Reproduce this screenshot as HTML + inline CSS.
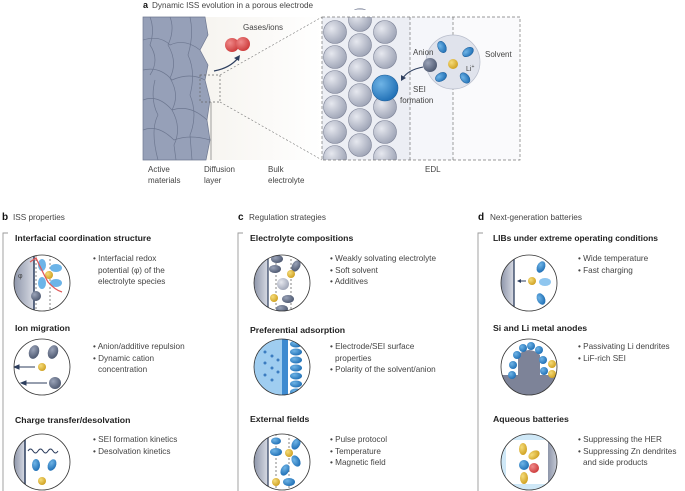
<!DOCTYPE html>
<html><head><meta charset="utf-8"><style>
html,body{margin:0;padding:0;background:#fff}
svg{display:block}
text{font-family:"Liberation Sans",sans-serif;fill:#333}
.h{font-size:8.7px;font-weight:bold;fill:#222}
.t{font-size:8.2px;fill:#444}
.l{font-size:8px;fill:#444}
.p{font-size:10px;font-weight:bold;fill:#111}
</style></head><body>
<svg width="685" height="491" viewBox="0 0 685 491" xmlns="http://www.w3.org/2000/svg">
<defs>
<radialGradient id="gs" cx="35%" cy="35%" r="70%"><stop offset="0" stop-color="#e6e8ef"/><stop offset="1" stop-color="#9ea4b6"/></radialGradient>
<radialGradient id="bs" cx="35%" cy="35%" r="70%"><stop offset="0" stop-color="#6fb4e6"/><stop offset="1" stop-color="#1f6fb5"/></radialGradient>
<radialGradient id="rs" cx="35%" cy="35%" r="70%"><stop offset="0" stop-color="#f08a8a"/><stop offset="1" stop-color="#cc3a3a"/></radialGradient>
<radialGradient id="ys" cx="35%" cy="35%" r="70%"><stop offset="0" stop-color="#f5dc7a"/><stop offset="1" stop-color="#cfa020"/></radialGradient>
<radialGradient id="ds" cx="35%" cy="35%" r="70%"><stop offset="0" stop-color="#9aa3b8"/><stop offset="1" stop-color="#4d5870"/></radialGradient>
<linearGradient id="el" x1="0" x2="1"><stop offset="0" stop-color="#8e96aa"/><stop offset="1" stop-color="#d8dbe4"/></linearGradient>
<linearGradient id="bg1" x1="0" x2="1"><stop offset="0" stop-color="#f2efe8"/><stop offset="1" stop-color="#ffffff"/></linearGradient>
<clipPath id="c1"><circle cx="42" cy="283" r="28"/></clipPath>
<clipPath id="c2"><circle cx="42" cy="367" r="28"/></clipPath>
<clipPath id="c3"><circle cx="42" cy="462" r="28"/></clipPath>
<clipPath id="c4"><circle cx="282" cy="283" r="28"/></clipPath>
<clipPath id="c5"><circle cx="282" cy="367" r="28"/></clipPath>
<clipPath id="c6"><circle cx="282" cy="462" r="28"/></clipPath>
<clipPath id="c7"><circle cx="529" cy="283" r="28"/></clipPath>
<clipPath id="c8"><circle cx="529" cy="367" r="28"/></clipPath>
<clipPath id="c9"><circle cx="529" cy="462" r="28"/></clipPath>
</defs>

<!-- panel a -->
<text x="143" y="8" class="p" style="font-size:9px">a</text>
<text x="152" y="8" class="t">Dynamic ISS evolution in a porous electrode</text>
<rect x="143" y="17" width="180" height="143" fill="url(#bg1)"/>
<g fill="#96a0b8" stroke="#6d7790" stroke-width="0.7">
<path d="M143 17 H205 L208 35 L200 50 L208 65 L205 80 L210 100 L207 120 L210 140 L206 160 H143 Z"/>
</g>
<g fill="none" stroke="#6d7790" stroke-width="0.7">
<path d="M143 40 Q160 35 170 45 Q185 38 200 50"/><path d="M150 17 Q155 30 150 45 Q160 60 150 75"/>
<path d="M170 17 Q175 30 168 45 Q178 62 170 78 Q180 95 172 110 Q182 128 174 145 L176 160"/>
<path d="M143 70 Q160 66 172 80 Q190 72 205 80"/><path d="M143 100 Q158 94 172 110 Q190 104 207 120"/>
<path d="M143 130 Q158 124 174 140 Q190 134 210 140"/><path d="M155 80 Q150 100 158 115 Q150 130 158 160"/>
<path d="M190 17 Q194 35 188 55 Q196 72 190 95 Q198 115 190 135 L192 160"/>
</g>
<line x1="211" y1="102" x2="211" y2="160" stroke="#888" stroke-width="0.8"/>
<rect x="200" y="75" width="20" height="27" fill="none" stroke="#666" stroke-width="0.7" stroke-dasharray="2,2"/>
<line x1="220" y1="75" x2="322" y2="17" stroke="#777" stroke-width="0.6" stroke-dasharray="2,2"/>
<line x1="220" y1="102" x2="322" y2="160" stroke="#777" stroke-width="0.6" stroke-dasharray="2,2"/>
<circle cx="232" cy="45" r="7" fill="url(#rs)"/><circle cx="243" cy="44" r="7" fill="url(#rs)"/>
<text x="243" y="30" class="l">Gases/ions</text>
<path d="M214 71 Q230 68 238 58" fill="none" stroke="#2d3e5e" stroke-width="1.3"/>
<path d="M240 55 L234 58 L239 61 Z" fill="#2d3e5e"/>

<rect x="322" y="17" width="198" height="143" fill="#eceef4"/>
<rect x="410" y="17" width="110" height="143" fill="#f5f6fa"/>
<rect x="453" y="17" width="67" height="143" fill="#fafafc"/>
<g fill="url(#gs)" stroke="#7c8296" stroke-width="0.6">
<circle cx="335" cy="32" r="11.5"/><circle cx="335" cy="57" r="11.5"/><circle cx="335" cy="82" r="11.5"/><circle cx="335" cy="107" r="11.5"/><circle cx="335" cy="132" r="11.5"/><circle cx="335" cy="157" r="11.5"/>
<circle cx="360" cy="20" r="11.5"/><circle cx="360" cy="45" r="11.5"/><circle cx="360" cy="70" r="11.5"/><circle cx="360" cy="95" r="11.5"/><circle cx="360" cy="120" r="11.5"/><circle cx="360" cy="145" r="11.5"/>
<circle cx="385" cy="32" r="11.5"/><circle cx="385" cy="57" r="11.5"/><circle cx="385" cy="107" r="11.5"/><circle cx="385" cy="132" r="11.5"/><circle cx="385" cy="157" r="11.5"/>
</g>
<rect x="322" y="160" width="200" height="10" fill="#fff"/>
<rect x="322" y="10" width="200" height="7" fill="#fff"/>
<circle cx="385" cy="88" r="13" fill="url(#bs)" stroke="#1d5e9a" stroke-width="0.6"/>
<rect x="322" y="17" width="198" height="143" fill="none" stroke="#777" stroke-width="0.7" stroke-dasharray="3,2"/>
<line x1="410" y1="17" x2="410" y2="160" stroke="#777" stroke-width="0.7" stroke-dasharray="3,2"/>
<line x1="453" y1="17" x2="453" y2="160" stroke="#777" stroke-width="0.7" stroke-dasharray="3,2"/>
<circle cx="453" cy="62" r="27" fill="#e0e3ec" stroke="#b8bdcb" stroke-width="0.7"/>
<g fill="url(#bs)" stroke="#1d5e9a" stroke-width="0.5">
<ellipse cx="442" cy="47" rx="4" ry="6" transform="rotate(-25 442 47)"/>
<ellipse cx="468" cy="52" rx="6" ry="4" transform="rotate(-35 468 52)"/>
<ellipse cx="441" cy="77" rx="6" ry="4" transform="rotate(-30 441 77)"/>
<ellipse cx="465" cy="78" rx="4" ry="6" transform="rotate(-40 465 78)"/>
</g>
<circle cx="453" cy="64" r="5" fill="url(#ys)"/>
<circle cx="430" cy="65" r="7" fill="url(#ds)"/>
<text x="413" y="55" class="l">Anion</text>
<text x="485" y="57" class="l">Solvent</text>
<text x="466" y="71" class="l" style="font-size:7px">Li<tspan dy="-3" font-size="5">+</tspan></text>
<text x="413" y="92" class="l">SEI</text>
<text x="400" y="103" class="l">formation</text>
<path d="M423 67 Q408 70 403 78" fill="none" stroke="#2d3e5e" stroke-width="1.1"/>
<path d="M401 81 L401 75 L406 78 Z" fill="#2d3e5e"/>
<text x="148" y="172" class="l">Active</text><text x="148" y="183" class="l">materials</text>
<text x="204" y="172" class="l">Diffusion</text><text x="204" y="183" class="l">layer</text>
<text x="268" y="172" class="l">Bulk</text><text x="268" y="183" class="l">electrolyte</text>
<text x="425" y="172" class="l">EDL</text>

<!-- column headers -->
<text x="2" y="220" class="p">b</text><text x="13" y="220" class="t">ISS properties</text>
<text x="238" y="220" class="p">c</text><text x="249" y="220" class="t">Regulation strategies</text>
<text x="478" y="220" class="p">d</text><text x="490" y="220" class="t">Next-generation batteries</text>
<g stroke="#999" stroke-width="0.9" fill="none">
<path d="M8 233 H3 V491"/><path d="M243 233 H238 V491"/><path d="M483 233 H478 V491"/>
</g>

<!-- b -->
<text x="15" y="241" class="h">Interfacial coordination structure</text>
<text x="15" y="331" class="h">Ion migration</text>
<text x="15" y="423" class="h">Charge transfer/desolvation</text>
<g clip-path="url(#c1)"><rect x="14" y="255" width="20" height="60" fill="url(#el)"/><line x1="34" y1="255" x2="34" y2="315" stroke="#2d3e5e" stroke-width="1.5"/>
<line x1="36" y1="255" x2="36" y2="315" stroke="#333" stroke-dasharray="2,2" stroke-width="0.6"/><line x1="50" y1="255" x2="50" y2="315" stroke="#333" stroke-dasharray="2,2" stroke-width="0.6"/>
<g fill="#6cb4e8"><ellipse cx="42" cy="265" rx="4" ry="6"/><ellipse cx="56" cy="268" rx="6" ry="4"/><ellipse cx="42" cy="283" rx="4" ry="6"/><ellipse cx="56" cy="283" rx="6" ry="4"/></g>
<circle cx="49" cy="275" r="4" fill="url(#ys)"/><circle cx="36" cy="296" r="5" fill="url(#ds)"/>
<path d="M30 262 L36 258 Q44 275 48 282 Q55 290 62 292" fill="none" stroke="#e05858" stroke-width="1.3"/>
<text x="18" y="278" class="l" style="font-size:7px">φ</text></g>
<circle cx="42" cy="283" r="28" fill="none" stroke="#333" stroke-width="0.8"/>
<g clip-path="url(#c2)"><g fill="url(#ds)"><ellipse cx="34" cy="352" rx="5" ry="7" transform="rotate(20 34 352)"/><ellipse cx="53" cy="352" rx="5" ry="7" transform="rotate(20 53 352)"/><circle cx="55" cy="383" r="6"/></g>
<circle cx="42" cy="367" r="4" fill="url(#ys)"/>
<g stroke="#2d3e5e" stroke-width="1" fill="#2d3e5e"><line x1="17" y1="367" x2="35" y2="367"/><path d="M14 367 L19 365 L19 369Z"/><line x1="24" y1="383" x2="47" y2="383"/><path d="M21 383 L26 381 L26 385Z"/></g></g>
<circle cx="42" cy="367" r="28" fill="none" stroke="#333" stroke-width="0.8"/>
<g clip-path="url(#c3)"><rect x="14" y="434" width="11" height="60" fill="url(#el)"/><line x1="25" y1="434" x2="25" y2="494" stroke="#2d3e5e" stroke-width="1.5"/>
<path d="M28 451 q2.5 -4 5 0 t5 0 t5 0 t5 0 t5 0 t5 0" fill="none" stroke="#2d3e5e" stroke-width="1"/>
<g fill="url(#bs)"><ellipse cx="36" cy="465" rx="4" ry="6"/><ellipse cx="52" cy="465" rx="4" ry="6" transform="rotate(25 52 465)"/></g>
<circle cx="42" cy="481" r="4" fill="url(#ys)"/></g>
<circle cx="42" cy="462" r="28" fill="none" stroke="#333" stroke-width="0.8"/>
<text x="93" y="261" class="t">• Interfacial redox</text><text x="98" y="273" class="t">potential (φ) of the</text><text x="98" y="284" class="t">electrolyte species</text>
<text x="93" y="349" class="t">• Anion/additive repulsion</text><text x="93" y="361" class="t">• Dynamic cation</text><text x="98" y="372" class="t">concentration</text>
<text x="93" y="442" class="t">• SEI formation kinetics</text><text x="93" y="454" class="t">• Desolvation kinetics</text>

<!-- c -->
<text x="250" y="241" class="h">Electrolyte compositions</text>
<text x="250" y="333" class="h">Preferential adsorption</text>
<text x="250" y="422" class="h">External fields</text>
<g clip-path="url(#c4)"><rect x="254" y="255" width="14" height="60" fill="url(#el)"/><line x1="268" y1="255" x2="268" y2="315" stroke="#2d3e5e" stroke-width="1.2"/>
<line x1="276" y1="255" x2="276" y2="315" stroke="#333" stroke-dasharray="2,2" stroke-width="0.6"/><line x1="291" y1="255" x2="291" y2="315" stroke="#333" stroke-dasharray="2,2" stroke-width="0.6"/>
<g fill="url(#ds)"><ellipse cx="277" cy="259" rx="6" ry="4"/><ellipse cx="275" cy="269" rx="6" ry="4"/><ellipse cx="296" cy="266" rx="4" ry="6" transform="rotate(30 296 266)"/><ellipse cx="288" cy="299" rx="6" ry="4"/><ellipse cx="282" cy="309" rx="6" ry="4"/></g>
<circle cx="283" cy="284" r="6" fill="url(#gs)"/><circle cx="291" cy="274" r="4" fill="url(#ys)"/><circle cx="274" cy="298" r="4" fill="url(#ys)"/></g>
<circle cx="282" cy="283" r="28" fill="none" stroke="#333" stroke-width="0.8"/>
<g clip-path="url(#c5)"><rect x="254" y="339" width="34" height="60" fill="#9fcdf0"/><rect x="282" y="339" width="6" height="60" fill="#3d8ad0"/>
<g fill="#3b7cc0"><circle cx="265" cy="352" r="1.5"/><circle cx="272" cy="356" r="1.5"/><circle cx="265" cy="363" r="1.5"/><circle cx="272" cy="368" r="1.5"/><circle cx="265" cy="375" r="1.5"/><circle cx="272" cy="380" r="1.5"/><circle cx="278" cy="360" r="1.5"/><circle cx="278" cy="372" r="1.5"/></g>
<g fill="url(#bs)"><ellipse cx="296" cy="344" rx="6" ry="3.5"/><ellipse cx="296" cy="352" rx="6" ry="3.5"/><ellipse cx="296" cy="360" rx="6" ry="3.5"/><ellipse cx="296" cy="368" rx="6" ry="3.5"/><ellipse cx="296" cy="376" rx="6" ry="3.5"/><ellipse cx="296" cy="384" rx="6" ry="3.5"/><ellipse cx="296" cy="392" rx="6" ry="3.5"/></g></g>
<circle cx="282" cy="367" r="28" fill="none" stroke="#333" stroke-width="0.8"/>
<g clip-path="url(#c6)"><rect x="254" y="434" width="14" height="60" fill="url(#el)"/><line x1="268" y1="434" x2="268" y2="494" stroke="#2d3e5e" stroke-width="1.2"/>
<line x1="276" y1="434" x2="276" y2="494" stroke="#333" stroke-dasharray="2,2" stroke-width="0.6"/><line x1="289" y1="434" x2="289" y2="494" stroke="#333" stroke-dasharray="2,2" stroke-width="0.6"/>
<g fill="url(#bs)"><ellipse cx="276" cy="441" rx="5" ry="3.5"/><ellipse cx="276" cy="452" rx="6" ry="4"/><ellipse cx="296" cy="444" rx="4" ry="6" transform="rotate(30 296 444)"/><ellipse cx="296" cy="461" rx="4" ry="6" transform="rotate(-30 296 461)"/><ellipse cx="285" cy="470" rx="4" ry="6" transform="rotate(30 285 470)"/><ellipse cx="289" cy="482" rx="6" ry="4"/></g>
<circle cx="289" cy="453" r="4" fill="url(#ys)"/><circle cx="276" cy="482" r="4" fill="url(#ys)"/></g>
<circle cx="282" cy="462" r="28" fill="none" stroke="#333" stroke-width="0.8"/>
<text x="330" y="261" class="t">• Weakly solvating electrolyte</text><text x="330" y="273" class="t">• Soft solvent</text><text x="330" y="284" class="t">• Additives</text>
<text x="330" y="349" class="t">• Electrode/SEI surface</text><text x="335" y="361" class="t">properties</text><text x="330" y="372" class="t">• Polarity of the solvent/anion</text>
<text x="330" y="442" class="t">• Pulse protocol</text><text x="330" y="454" class="t">• Temperature</text><text x="330" y="465" class="t">• Magnetic field</text>

<!-- d -->
<text x="493" y="241" class="h" textLength="165" lengthAdjust="spacingAndGlyphs">LIBs under extreme operating conditions</text>
<text x="493" y="331" class="h">Si and Li metal anodes</text>
<text x="493" y="422" class="h">Aqueous batteries</text>
<g clip-path="url(#c7)"><rect x="501" y="255" width="13" height="60" fill="url(#el)"/><line x1="514" y1="255" x2="514" y2="315" stroke="#2d3e5e" stroke-width="1.3"/>
<g fill="url(#bs)"><ellipse cx="541" cy="267" rx="4" ry="6" transform="rotate(25 541 267)"/><ellipse cx="541" cy="299" rx="4" ry="6" transform="rotate(-25 541 299)"/></g>
<ellipse cx="545" cy="282" rx="6" ry="4" fill="#8fc6ef"/><circle cx="532" cy="281" r="4" fill="url(#ys)"/>
<path d="M518 281 H526" stroke="#2d3e5e" stroke-width="1"/><path d="M517 281 L521 279 L521 283Z" fill="#2d3e5e"/></g>
<circle cx="529" cy="283" r="28" fill="none" stroke="#333" stroke-width="0.8"/>
<g clip-path="url(#c8)"><rect x="500" y="375" width="60" height="25" fill="#7d8398"/><path d="M518 378 V355 Q529 345 540 355 V378Z" fill="#7d8398"/>
<g fill="url(#bs)"><circle cx="512" cy="375" r="4"/><circle cx="513" cy="365" r="4"/><circle cx="517" cy="355" r="4"/><circle cx="523" cy="348" r="4"/><circle cx="531" cy="346" r="4"/><circle cx="539" cy="350" r="4"/><circle cx="543" cy="360" r="4"/><circle cx="544" cy="371" r="4"/></g>
<g fill="url(#ys)"><circle cx="552" cy="364" r="4"/><circle cx="552" cy="374" r="4"/></g></g>
<circle cx="529" cy="367" r="28" fill="none" stroke="#333" stroke-width="0.8"/>
<g clip-path="url(#c9)"><rect x="500" y="434" width="60" height="60" fill="#cfe8f7"/><rect x="506" y="440" width="42" height="44" fill="#fff"/><rect x="548" y="434" width="12" height="60" fill="url(#el)"/>
<g fill="url(#ys)"><ellipse cx="523" cy="449" rx="4" ry="6"/><ellipse cx="534" cy="455" rx="6" ry="4" transform="rotate(-30 534 455)"/><ellipse cx="524" cy="478" rx="4" ry="6"/></g>
<circle cx="524" cy="465" r="5" fill="url(#bs)"/><circle cx="534" cy="468" r="5" fill="url(#rs)"/></g>
<circle cx="529" cy="462" r="28" fill="none" stroke="#333" stroke-width="0.8"/>
<text x="578" y="261" class="t">• Wide temperature</text><text x="578" y="273" class="t">• Fast charging</text>
<text x="578" y="349" class="t">• Passivating Li dendrites</text><text x="578" y="361" class="t">• LiF-rich SEI</text>
<text x="578" y="442" class="t">• Suppressing the HER</text><text x="578" y="454" class="t">• Suppressing Zn dendrites</text><text x="583" y="465" class="t">and side products</text>
</svg>
</body></html>
